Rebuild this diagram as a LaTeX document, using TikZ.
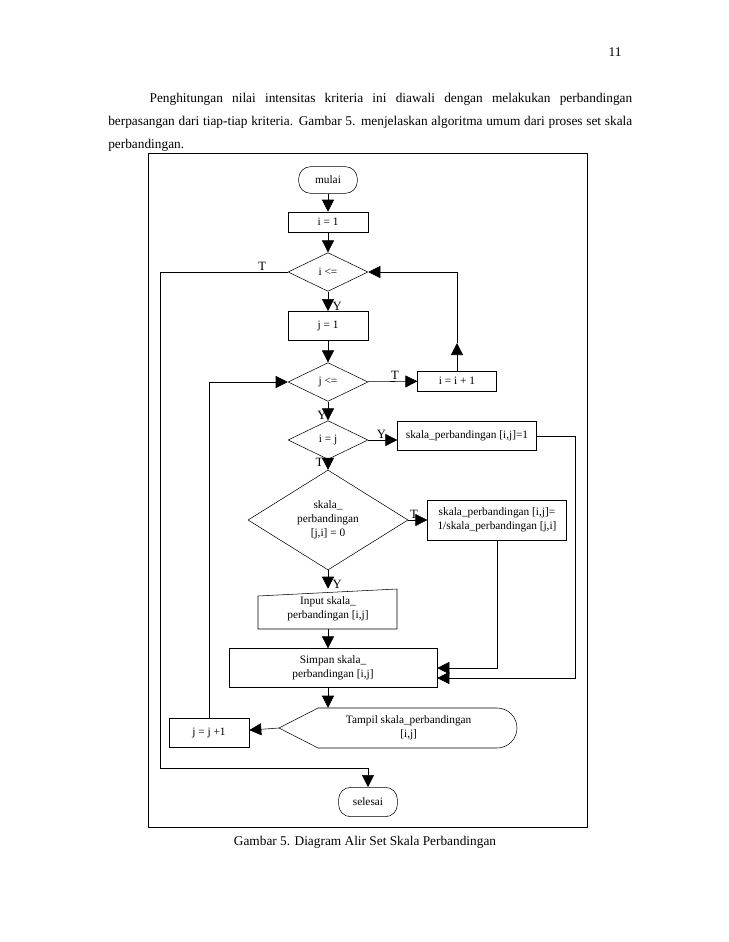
\documentclass[tikz,border=0pt]{standalone}
\usepackage{fontspec}
\setmainfont{Liberation Serif}
\usetikzlibrary{shapes.geometric, arrows.meta, positioning, calc}

\tikzset{
  flow/.style={font=\fontsize{8.5}{10.5}\selectfont, align=center},
  proc/.style={flow, draw, rectangle, inner sep=0pt},
  decide/.style={flow, draw, diamond, inner sep=0pt},
  term/.style={flow, draw, rounded corners=9pt, inner sep=0pt},
  conn/.style={-{Triangle[length=9pt,width=9pt]}},
  lab/.style={font=\fontsize{9.5}{10}\selectfont}
}

\begin{document}
\begin{tikzpicture}[x=0.75pt, y=-0.75pt]
    \useasboundingbox (0,0) rectangle (728,942);

    % Page text
    \node[font=\fontsize{10}{12}\selectfont] (pagenum) at (615,52) {11};
    \node[anchor=north west, inner sep=0pt, text width=393pt, align=justify,
          font=\fontsize{10}{17.25}\selectfont] (para) at (108,93)
      {\hspace*{31pt}Penghitungan nilai intensitas kriteria ini diawali dengan melakukan perbandingan\linebreak
       berpasangan dari tiap-tiap kriteria. Gambar 5. menjelaskan algoritma umum dari proses set skala\linebreak
       perbandingan.};

    % Frame
    \draw (148,153) rectangle (587,827);

    % Nodes
    \node[term, minimum width=44pt, minimum height=20pt] (start) at (328,180) {mulai};
    \node[proc, minimum width=60pt, minimum height=15pt] (iset) at (328,222) {i = 1};
    \node[decide, minimum width=60pt, minimum height=29pt] (icheck) at (328,272) {i <=};
    \node[proc, minimum width=60pt, minimum height=22pt] (jset) at (328,326) {j = 1};
    \node[decide, minimum width=60pt, minimum height=29pt] (jcheck) at (328,382) {j <=};
    \node[proc, minimum width=59pt, minimum height=15pt] (iinc) at (457,381) {i = i + 1};
    \node[decide, minimum width=60pt, minimum height=29pt] (eqcheck) at (328,440) {i = j};
    \node[proc, minimum width=104pt, minimum height=22pt] (setone) at (467,436) {skala\_perbandingan [i,j]=1};
    \node[decide, minimum width=120pt, minimum height=74pt] (zerocheck) at (328,520) {skala\_\\perbandingan\\{}[j,i] = 0};
    \node[proc, minimum width=104pt, minimum height=30pt] (setinv) at (497,520) {skala\_perbandingan [i,j]=\\1/skala\_perbandingan [j,i]};
    \node[flow, minimum width=104pt, minimum height=30pt, inner sep=0pt] (input) at (328,609) {Input skala\_\\perbandingan [i,j]};
    \draw (258,596) -- (397,589) -- (397,629) -- (258,629) -- cycle;
    \node[proc, minimum width=156pt, minimum height=29pt] (save) at (333,668) {Simpan skala\_\\perbandingan [i,j]};
    \node[flow, minimum width=178pt, minimum height=30pt, inner sep=0pt] (show) at (398,728) {\hspace*{16pt}Tampil skala\_perbandingan\\\hspace*{16pt}[i,j]};
    \draw (279,728) -- (318,708) -- (497,708) arc[start angle=-90, end angle=90, x radius=20, y radius=20] -- (318,748) -- cycle;
    \node[proc, minimum width=60pt, minimum height=22pt] (jinc) at (209,733) {j = j +1};
    \node[term, minimum width=44pt, minimum height=22pt] (stop) at (368,802) {selesai};

    % Connectors
    \draw[conn] (start) -- (iset);
    \draw[conn] (iset) -- (icheck);
    \draw[conn] (icheck) -- node[lab, pos=0.75, right] {Y} (jset);
    \draw[conn] (jset) -- (jcheck);
    \draw[conn] (jcheck) -- node[lab, pos=0.75, left, inner sep=1pt] {Y} (eqcheck);
    \draw[conn] (eqcheck) -- node[lab, pos=0.3, left] {T} (zerocheck);
    \draw[conn] (zerocheck) -- node[lab, pos=0.75, right] {Y} (input);
    \draw[conn] (input) -- (input |- save.north);
    \draw[conn] (save.south -| icheck) -- (show.north -| icheck);
    \draw[conn] (show.west) -- (jinc);
    \draw[conn] (jcheck) -- node[lab, pos=0.55, above, inner sep=1pt] {T} (iinc);
    \draw[conn] (eqcheck) -- node[lab, pos=0.45, above, inner sep=1pt] {Y} (eqcheck -| setone.west);
    \draw[conn] (zerocheck) -- node[lab, pos=0.3, above, inner sep=1pt] {T} (setinv);
    \coordinate (iup) at (457,343);
    \draw[conn] (iinc) -- (iup);
    \draw[conn] (iup) |- (icheck.east);
    \draw[conn] (jinc.north) |- (jcheck.west);
    \draw[conn] (setone.east) -| (575,678) -- ($(save.east)+(0,10)$);
    \draw[conn] (setinv.south) |- ($(save.east)+(0,0)$);
    \draw[conn] (icheck.west) -- node[lab, pos=0.2, above, inner sep=1pt] {T} (160,272) |- (368,768) -- (stop.north);

    % Caption
    \node[font=\fontsize{10}{12}\selectfont] (caption) at (365,842) {Gambar 5. Diagram Alir Set Skala Perbandingan};
\end{tikzpicture}
\end{document}
